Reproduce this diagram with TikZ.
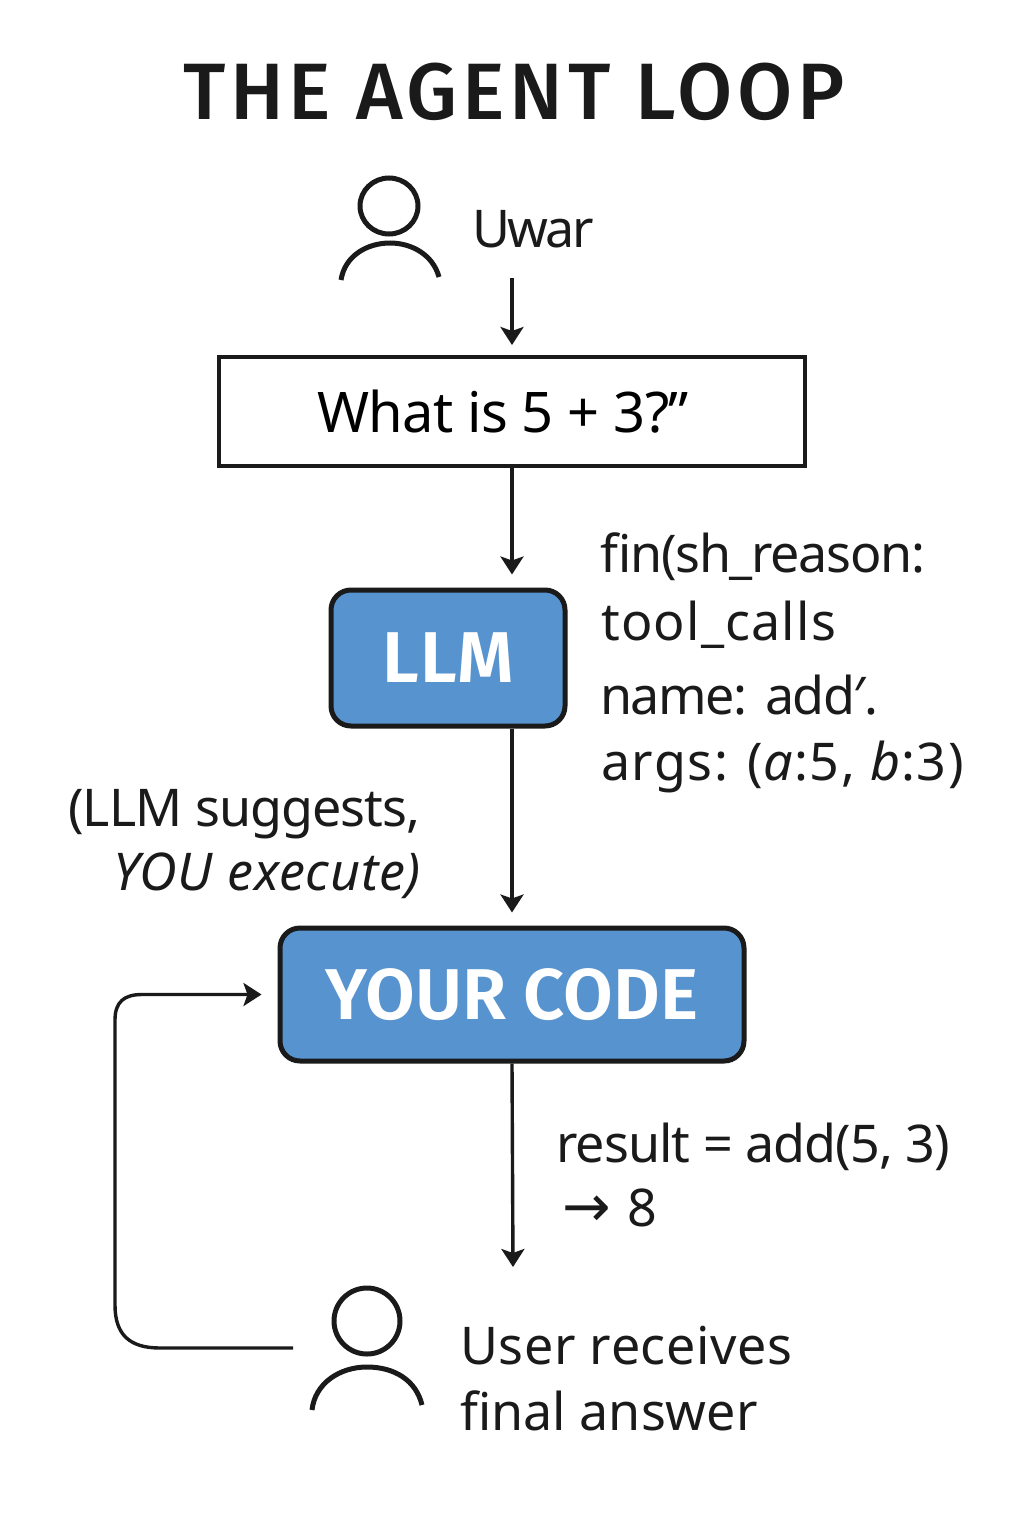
\documentclass[tikz,border=0pt]{standalone}
\usepackage{fontspec}
\setmainfont{Noto Sans}
\newfontfamily\arrowfont{DejaVu Sans}
\newfontfamily\heavy{Fira Sans SemiBold}
\newfontfamily\medw{Fira Sans Medium}
\usetikzlibrary{arrows.meta}
\definecolor{ink}{HTML}{1A1A1A}
\definecolor{boxblue}{HTML}{5793CE}
\newcommand{\fsz}[1]{\fontsize{#1}{#1}\selectfont}
\newcommand{\spc}[1]{\addfontfeature{LetterSpace=#1}}
\tikzset{
  x=1pt,y=-1pt,
  conn/.style={draw=ink,line width=3.4pt,-{Stealth[length=18pt,width=23pt,inset=4pt]}},
  plainbox/.style={draw=ink,line width=4.5pt,fill=white,minimum width=586pt,minimum height=109pt,inner sep=0pt,font=\fsz{56}},
  bluebox/.style={draw=ink,line width=5pt,fill=boxblue,rounded corners=20pt,inner sep=0pt,text=white,font=\heavy\fsz{72}},
  txt/.style={anchor=base west,inner sep=0pt,text=ink,font=\fsz{52}},
  personhead/.style={draw=ink,line width=5pt,fill=none},
  shoulders/.style={draw=ink,line width=5pt},
}
\begin{document}
\begin{tikzpicture}
\useasboundingbox (0,0) rectangle (1024,1536);
\fill[white] (0,0) rectangle (1024,1536);

\node[anchor=base,inner sep=0pt,text=ink,font=\medw\fsz{80}] (title) at (514,120) {\spc{6}THE AGENT LOOP};

% user 1
\draw[personhead] (389,206) ellipse [x radius=29,y radius=28];
\draw[shoulders] (341,280) .. controls (345,255) and (368,243) .. (390,243) .. controls (412,243) and (433,255) .. (439,277);
\node[txt] (uwar) at (472,247) {\spc{-5}Uwar};
\coordinate (ustart) at (512,278);
\coordinate (uend) at (512,345);

\node[plainbox] (qbox) at (512,411.5) {\raisebox{-3pt}{\hspace*{-18pt}\spc{-1.2}What is 5 + 3?"}};
\node[bluebox,minimum width=234pt,minimum height=136pt] (llm) at (448,658) {\spc{1.5}LLM};
\node[bluebox,minimum width=464pt,minimum height=133pt] (code) at (512,994.5) {YOUR CODE};

\node[txt] (fin) at (600,572) {\spc{-2.5}fin(sh\_reason:};
\node[txt] (tool) at (601,640) {\spc{2.3}tool\_calls};
\node[txt] (nm) at (600,714) {\spc{-3}name:\hspace{18pt}add′.};
\node[txt] (args) at (601,780) {\spc{2.8}args: (\textit{a}:5, \textit{b}:3)};

\node[txt] (sug) at (68,826) {\spc{-1.8}(LLM suggests,};
\node[txt,font=\fsz{52}\itshape] (you) at (113,890) {\spc{1.6}YOU execute)};

\node[txt] (res) at (556,1162) {\spc{-1.8}result = add(5, 3)};
\node[txt] (arr) at (562,1226) {{\arrowfont\fsz{58}→}\hspace{17pt}8};

% user 2
\draw[personhead] (367,1321) ellipse [x radius=33,y radius=33];
\draw[shoulders] (312,1410) .. controls (315,1383) and (340,1367) .. (367,1367) .. controls (394,1367) and (416,1380) .. (422,1405);
\node[txt] (rec) at (460,1364) {\spc{1.2}User receives};
\node[txt] (fa) at (460,1430) {final answer};

\coordinate (resend) at (513,1267);
\coordinate (loopstart) at (293,1348);

\draw[conn] (ustart) -- (uend);
\draw[conn,shorten >=13pt] (qbox.south) -- (llm.north -| qbox.south);
\draw[conn,shorten >=13pt] (llm.south -| qbox.south) -- (code.north -| qbox.south);
\draw[conn] (code.south) -- (resend);
\draw[conn,shorten >=16pt] (loopstart) -- (160,1348) .. controls (130,1348) and (115,1335) .. (115,1305) -- (115,1020) .. controls (115,1002) and (124,994.5) .. (142,994.5) -- (code.west);
\end{tikzpicture}
\end{document}
